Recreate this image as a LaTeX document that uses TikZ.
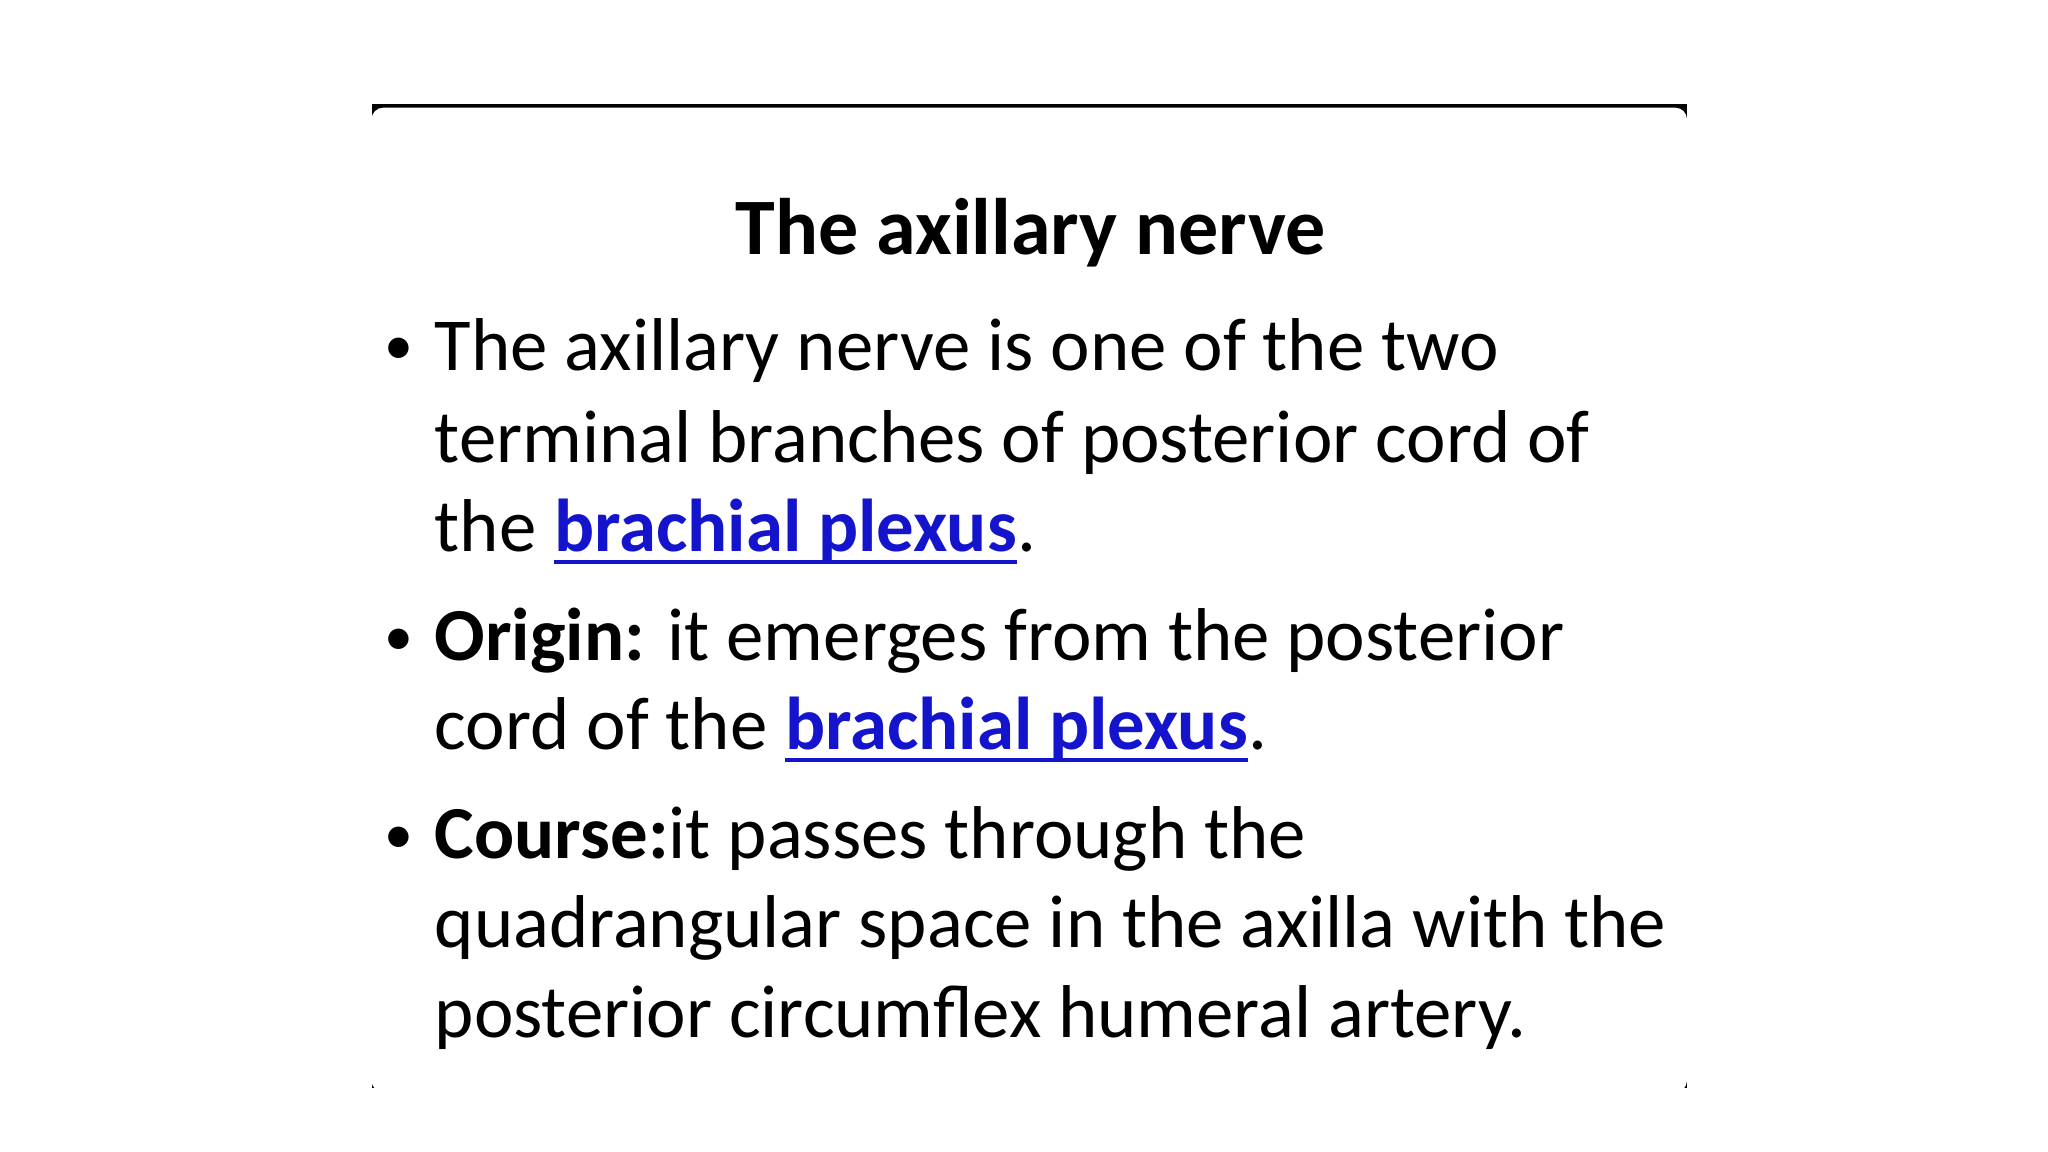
\documentclass[tikz,border=0pt]{standalone}
\usepackage{fontspec}
\setmainfont{Carlito}
\definecolor{linkblue}{RGB}{20,20,205}
\tikzset{
  body/.style={anchor=base west,inner sep=0pt,font=\fontsize{57}{69}\selectfont},
  link/.style={body,text=linkblue,font=\fontsize{57}{69}\selectfont\bfseries},
  bul/.style={anchor=base west,inner sep=0pt,font=\fontsize{44}{50}\selectfont},
  uline/.style={linkblue,line width=2.5pt}
}
\begin{document}
\begin{tikzpicture}[x=1pt,y=-1pt]
\useasboundingbox (0,0) rectangle (1560,877.5);
\fill[white] (0,0) rectangle (1560,877.5);
\fill[black] (283,79) rectangle (1285,829);
\fill[white,rounded corners=9pt] (283,82) rectangle (1285,832);
\node[anchor=base,inner sep=0pt,font=\fontsize{61}{66}\selectfont\bfseries] (title) at (785,194) {The axillary nerve};
% bullet 1
\node[bul] (b1) at (293,278) {\textbullet};
\node[body] (l1) at (331,282) {The axillary nerve is one of the two};
\node[body] (l2) at (331,352) {terminal branches of posterior cord of};
\node[body] (l3) at (331,420) {the};
\node[link] (k1) at ([xshift=13pt]l3.base east) {brachial plexus};
\node[body] (d1) at (k1.base east) {.};
\draw[uline] ([yshift=-8pt]k1.base west) -- ([yshift=-8pt]k1.base east);
% bullet 2
\node[bul] (b2) at (293,499) {\textbullet};
\node[body] (l4) at (331,503) {\textbf{Origin:} it emerges from the posterior};
\node[body] (l5) at (331,571) {cord of the};
\node[link] (k2) at ([xshift=13pt]l5.base east) {brachial plexus};
\node[body] (d2) at (k2.base east) {.};
\draw[uline] ([yshift=-8pt]k2.base west) -- ([yshift=-8pt]k2.base east);
% bullet 3
\node[bul] (b3) at (293,650) {\textbullet};
\node[body] (l6) at (331,654) {\textbf{Course:}it passes through the};
\node[body] (l7) at (331,722) {quadrangular space in the axilla with the};
\node[body] (l8) at (331,790) {posterior circumflex humeral artery.};
\end{tikzpicture}
\end{document}
